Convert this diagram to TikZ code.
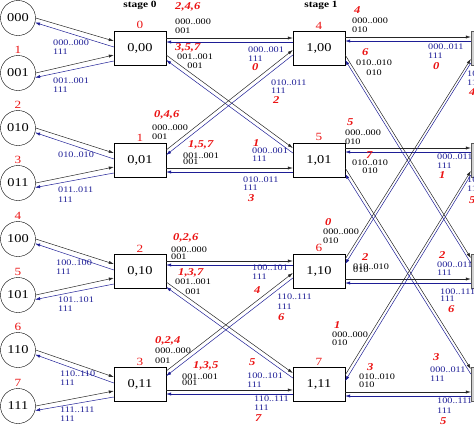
\documentclass[tikz,border=0pt]{standalone}
\usepackage{fontspec}
\setmainfont{Liberation Serif}[FakeStretch=1.2]
\usepackage{xcolor}
\usetikzlibrary{arrows.meta}

\definecolor{mblue}{RGB}{30,30,150}
\definecolor{mred}{RGB}{235,20,20}

\begin{document}
\begin{tikzpicture}[x=1pt, y=-1pt, >={Latex[length=5pt,width=3.2pt]},
  pe/.style={circle, draw, minimum size=35pt, inner sep=0pt, font=\fontsize{12}{14}\selectfont},
  sw/.style={draw, minimum width=52pt, minimum height=34pt, inner sep=0pt, font=\fontsize{12}{14}\selectfont},
  nxt/.style={draw=gray!70!black, fill=gray!35, minimum width=52pt, minimum height=34pt},
  idx/.style={text=mred, font=\fontsize{11}{12}\selectfont, inner sep=1.5pt},
  sel/.style={text=mred, font=\fontsize{10.5}{11}\selectfont\bfseries\itshape, anchor=west, inner sep=0pt},
  bits/.style={font=\fontsize{8.5}{9}\selectfont, align=left, anchor=north west, inner sep=0pt},
  rbits/.style={bits, text=mblue},
  fwd/.style={->, black!85, line width=0.5pt},
  bwd/.style={->, mblue, line width=0.5pt}]

\useasboundingbox (0,0) rectangle (474,424);

% titles
\node[font=\fontsize{9.5}{10}\selectfont\bfseries, anchor=base] (t0) at (140,7) {stage 0};
\node[font=\fontsize{9.5}{10}\selectfont\bfseries, anchor=base] (t1) at (321,7) {stage 1};

% input ports
\node[pe] (x000) at (18,18) {000};
\node[pe, label={[idx]above:1}] (x001) at (18,73) {001};
\node[pe, label={[idx]above:2}] (x010) at (18,128) {010};
\node[pe, label={[idx]above:3}] (x011) at (18,183) {011};
\node[pe, label={[idx]above:4}] (x100) at (18,239) {100};
\node[pe, label={[idx]above:5}] (x101) at (18,295) {101};
\node[pe, label={[idx]above:6}] (x110) at (18,350) {110};
\node[pe, label={[idx]above:7}] (x111) at (18,406) {111};

% stage 0 switches
\node[sw, label={[idx]above:0}] (s000) at (140,48) {0,00};
\node[sw, label={[idx]above:1}] (s001) at (140,160) {0,01};
\node[sw, label={[idx]above:2}] (s010) at (140,271) {0,10};
\node[sw, label={[idx]above:3}] (s011) at (140,384) {0,11};

% stage 1 switches
\node[sw, label={[idx]above:4}] (s100) at (319,48) {1,00};
\node[sw, label={[idx]above:5}] (s101) at (319,160) {1,01};
\node[sw, label={[idx]above:6}] (s110) at (319,271) {1,10};
\node[sw, label={[idx]above:7}] (s111) at (319,384) {1,11};

% stage 2 switches (cut by the edge)
\node[nxt] (s200) at (497,48) {};
\node[nxt] (s201) at (497,160) {};
\node[nxt] (s210) at (497,271) {};
\node[nxt] (s211) at (497,384) {};

% ports <-> stage 0
\draw[fwd] (x000.east) -- ([yshift=7pt]s000.west);
\draw[bwd] ([yshift=1pt]s000.west) -- (x000.-15);
\draw[fwd] (x001.east) -- ([yshift=-7pt]s000.west);
\draw[bwd] ([yshift=-13pt]s000.west) -- (x001.-15);
\draw[fwd] (x010.east) -- ([yshift=7pt]s001.west);
\draw[bwd] ([yshift=1pt]s001.west) -- (x010.-15);
\draw[fwd] (x011.east) -- ([yshift=-7pt]s001.west);
\draw[bwd] ([yshift=-13pt]s001.west) -- (x011.-15);
\draw[fwd] (x100.east) -- ([yshift=7pt]s010.west);
\draw[bwd] ([yshift=1pt]s010.west) -- (x100.-15);
\draw[fwd] (x101.east) -- ([yshift=-7pt]s010.west);
\draw[bwd] ([yshift=-13pt]s010.west) -- (x101.-15);
\draw[fwd] (x110.east) -- ([yshift=7pt]s011.west);
\draw[bwd] ([yshift=1pt]s011.west) -- (x110.-15);
\draw[fwd] (x111.east) -- ([yshift=-7pt]s011.west);
\draw[bwd] ([yshift=-13pt]s011.west) -- (x111.-15);

% stage 0 <-> stage 1
\draw[fwd] ([yshift=10pt]s000.east) -- ([yshift=10pt]s100.west);
\draw[bwd] ([yshift=6pt]s100.west) -- ([yshift=6pt]s000.east);
\draw[fwd] ([yshift=-7pt]s000.east) -- ([yshift=12pt]s101.west);
\draw[bwd] ([yshift=7pt]s101.west) -- ([yshift=-12pt]s000.east);
\draw[fwd] ([yshift=10pt]s001.east) -- ([yshift=-2pt]s100.west);
\draw[bwd] ([yshift=-7pt]s100.west) -- ([yshift=5pt]s001.east);
\draw[fwd] ([yshift=-8pt]s001.east) -- ([yshift=-8pt]s101.west);
\draw[bwd] ([yshift=-12pt]s101.west) -- ([yshift=-12pt]s001.east);
\draw[fwd] ([yshift=10pt]s010.east) -- ([yshift=10pt]s110.west);
\draw[bwd] ([yshift=6pt]s110.west) -- ([yshift=6pt]s010.east);
\draw[fwd] ([yshift=-11pt]s010.east) -- ([yshift=11pt]s111.west);
\draw[bwd] ([yshift=6pt]s111.west) -- ([yshift=-16pt]s010.east);
\draw[fwd] ([yshift=13pt]s011.east) -- ([yshift=-2pt]s110.west);
\draw[bwd] ([yshift=-7pt]s110.west) -- ([yshift=8pt]s011.east);
\draw[fwd] ([yshift=-6pt]s011.east) -- ([yshift=-6pt]s111.west);
\draw[bwd] ([yshift=-10pt]s111.west) -- ([yshift=-10pt]s011.east);

% stage 1 <-> stage 2
\draw[fwd] ([yshift=11pt]s100.east) -- ([yshift=11pt]s200.west);
\draw[bwd] ([yshift=7pt]s200.west) -- ([yshift=7pt]s100.east);
\draw[fwd] ([yshift=-7pt]s100.east) -- ([yshift=13pt]s210.west);
\draw[bwd] ([yshift=8pt]s210.west) -- ([yshift=-12pt]s100.east);
\draw[fwd] ([yshift=12pt]s101.east) -- ([yshift=12pt]s201.west);
\draw[bwd] ([yshift=8pt]s201.west) -- ([yshift=8pt]s101.east);
\draw[fwd] ([yshift=-8pt]s101.east) -- ([yshift=15pt]s211.west);
\draw[bwd] ([yshift=10pt]s211.west) -- ([yshift=-14pt]s101.east);
\draw[fwd] ([yshift=12pt]s110.east) -- ([yshift=-11pt]s200.west);
\draw[bwd] ([yshift=-15pt]s200.west) -- ([yshift=7pt]s110.east);
\draw[fwd] ([yshift=-8pt]s110.east) -- ([yshift=-8pt]s210.west);
\draw[bwd] ([yshift=-12pt]s210.west) -- ([yshift=-12pt]s110.east);
\draw[fwd] ([yshift=9pt]s111.east) -- ([yshift=-11pt]s201.west);
\draw[bwd] ([yshift=-15pt]s201.west) -- ([yshift=3pt]s111.east);
\draw[fwd] ([yshift=-8pt]s111.east) -- ([yshift=-8pt]s211.west);
\draw[bwd] ([yshift=-12pt]s211.west) -- ([yshift=-12pt]s111.east);

% return labels at the ports
\node[rbits] (r000) at (53,40) {000..000\\111};
\node[rbits] (r001) at (53,78) {001..001\\111};
\node[rbits] (r010) at (58,152) {010..010};
\node[rbits] (r011) at (58,187) {011..011\\[1pt]111};
\node[rbits] (r100) at (56,260) {100..100\\111};
\node[rbits] (r101) at (58,297) {101..101\\111};
\node[rbits] (r110) at (60,371) {110..110\\111};
\node[rbits] (r111) at (60,407) {111..111\\111};

% stage 0 outputs
\node[sel] (p0a) at (175,7) {2,4,6};
\node[bits] (m0a) at (175,19) {000..000\\001};
\node[sel] (p0b) at (175,48) {3,5,7};
\node[bits, align=center] (m0b) at (177,54) {001..001\\001};
\node[sel] (p1a) at (154,115) {0,4,6};
\node[bits] (m1a) at (152,125) {000..000\\001};
\node[sel] (p1b) at (188,145) {1,5,7};
\node[bits] (m1b) at (183,153) {001..001\\[-3pt]001};
\node[sel] (p2a) at (173,238) {0,2,6};
\node[bits] (m2a) at (171,247) {000..000\\[-2pt]001};
\node[sel] (p2b) at (178,273) {1,3,7};
\node[bits, align=center] (m2b) at (175,279) {001..001\\[1pt]001};
\node[sel] (p3a) at (155,341) {0,2,4};
\node[bits] (m3a) at (155,348) {000..000\\[1pt]001};
\node[sel] (p3b) at (193,366) {1,3,5};
\node[bits] (m3b) at (182,374) {001..001\\[-3pt]001};

% stage 0 returns
\node[rbits] (q4a) at (248,47) {000..001\\111};
\node[sel] (k4a) at (252,67) {0};
\node[rbits] (q4b) at (271,80) {010..011\\[-1pt]111};
\node[sel] (k4b) at (273,100) {2};
\node[sel] (k5a) at (253,143) {1};
\node[rbits] (q5a) at (252,148) {000..001\\[-1pt]111};
\node[rbits] (q5b) at (243,177) {010..011\\[-1pt]111};
\node[sel] (k5b) at (248,198) {3};
\node[rbits] (q6a) at (252,265) {100..101\\111};
\node[sel] (k6a) at (254,290) {4};
\node[rbits] (q6b) at (277,294) {110..111\\[1pt]111};
\node[sel] (k6b) at (278,317) {6};
\node[sel] (k7a) at (249,362) {5};
\node[rbits] (q7a) at (247,373) {100..101\\111};
\node[rbits] (q7b) at (254,396) {110..111\\111};
\node[sel] (k7b) at (255,418) {7};

% stage 1 outputs
\node[sel] (p4a) at (354,10) {4};
\node[bits] (m4a) at (352,18) {000..000\\010};
\node[sel] (p4b) at (362,52) {6};
\node[bits, align=center] (m4b) at (356,60) {010..010\\[1pt]010};
\node[sel] (p5a) at (347,122) {5};
\node[bits] (m5a) at (345,130) {000..000\\010};
\node[sel] (p5b) at (366,155) {7};
\node[bits, align=center] (m5b) at (352,160) {010..010\\[-1pt]010};
\node[sel] (p6a) at (325,222) {0};
\node[bits] (m6a) at (323,229) {000..000\\010};
\node[sel] (p6b) at (362,257) {2};
\node[bits] (m6b) at (353,264) {010..010\\[-6pt]010};
\node[sel] (p7a) at (334,325) {1};
\node[bits] (m7a) at (332,332) {000..000\\[-1pt]010};
\node[sel] (p7b) at (367,367) {3};
\node[bits] (m7b) at (359,374) {010..010\\[-1pt]010};

% stage 1 returns
\node[rbits] (q8a) at (428,44) {000..011\\111};
\node[sel] (k8a) at (433,66) {0};
\node[rbits] (q8b) at (467,71) {100..111\\111};
\node[sel] (k8b) at (469,92) {4};
\node[rbits] (q9a) at (437,154) {000..011\\111};
\node[sel] (k9a) at (439,175) {1};
\node[rbits] (q9b) at (467,177) {100..111\\111};
\node[sel] (k9b) at (469,200) {5};
\node[sel] (kAa) at (439,255) {2};
\node[rbits] (qAa) at (437,262) {000..011\\[-1pt]111};
\node[rbits] (qAb) at (440,289) {100..111\\[-2pt]111};
\node[sel] (kAb) at (448,309) {6};
\node[sel] (kBa) at (433,357) {3};
\node[rbits] (qBa) at (430,367) {000..011\\111};
\node[rbits] (qBb) at (437,398) {100..111\\[1pt]111};
\node[sel] (kBb) at (440,421) {5};

\end{tikzpicture}
\end{document}
